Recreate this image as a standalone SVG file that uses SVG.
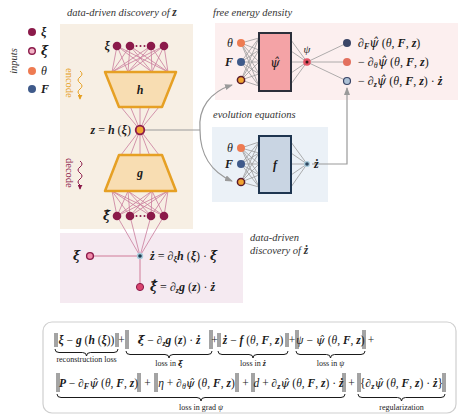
<svg xmlns="http://www.w3.org/2000/svg" width="474" height="419" viewBox="0 0 474 419">
<defs>
<style>
text{font-family:"Liberation Serif","DejaVu Serif",serif;fill:#1a1a1a}
.t{font-size:10.5px;font-style:italic;fill:#333}
.m{font-size:12px}
.lm{font-size:11.5px}
.i{font-style:italic}
.b{font-style:italic;font-weight:bold}
.a{font-family:"DejaVu Serif",serif}
.sm{font-size:8px}
.pl{stroke:#C97B9C;stroke-width:0.8;fill:none}
.gl{stroke:#9a9a9a;stroke-width:0.8;fill:none}
.ar{stroke:#9a9a9a;stroke-width:1.2;fill:none}
.br{stroke:#1a1a1a;stroke-width:1;fill:none}
.nb{stroke:#1a1a1a;stroke-width:0.8;fill:none}
.trap{fill:#F8DDB2;stroke:#E6A024;stroke-width:2.5;stroke-linejoin:round}
.xi{fill:#8B1A4A}
</style>
<marker id="ah" viewBox="0 0 8 6" refX="7" refY="3" markerWidth="8" markerHeight="6" orient="auto" markerUnits="userSpaceOnUse">
<path d="M0,0 L8,3 L0,6 z" fill="#9a9a9a"/>
</marker>
<marker id="ao" viewBox="0 0 6 6" refX="5" refY="3" markerWidth="5" markerHeight="5" orient="auto" markerUnits="userSpaceOnUse">
<path d="M0,0 L6,3 L0,6 z" fill="#E6A024"/>
</marker>
<marker id="am" viewBox="0 0 6 6" refX="5" refY="3" markerWidth="5" markerHeight="5" orient="auto" markerUnits="userSpaceOnUse">
<path d="M0,0 L6,3 L0,6 z" fill="#8B1A4A"/>
</marker>
</defs>
<rect width="474" height="419" fill="#fff"/>

<g id="panels">
<rect x="60" y="24" width="133" height="205" fill="#F7EFE4"/>
<rect x="60" y="233" width="183" height="70" fill="#F5EAF1"/>
<rect x="215" y="23" width="243" height="77" fill="#FCEFEF"/>
<rect x="212" y="127" width="116" height="75" fill="#EBF1F7"/>
</g>

<g id="titles">
<text class="t" x="67" y="16">data-driven discovery of <tspan class="b" font-size="11.5">z</tspan></text>
<text class="t" x="213" y="16">free energy density</text>
<text class="t" x="213" y="118">evolution equations</text>
<text class="t" x="250" y="241">data-driven</text>
<text class="t" x="250" y="254">discovery of <tspan class="b" font-size="11.5">ż</tspan></text>
</g>

<g id="legend">
<text class="t" transform="translate(17,61) rotate(-90)" text-anchor="middle">inputs</text>
<circle cx="32" cy="32" r="4" fill="#8B1A4A"/>
<circle cx="32" cy="51" r="3.3" fill="#F2B3C6" stroke="#8B1A4A" stroke-width="1.4"/>
<circle cx="32" cy="71" r="4" fill="#EE7B52"/>
<circle cx="32" cy="89" r="4" fill="#3F5A8A"/>
<text class="m b" x="41" y="36">ξ</text>
<text class="m b a" x="41" y="55">ξ̇</text>
<text class="m i" x="41" y="75">θ</text>
<text class="m b" x="41" y="93">F</text>
</g>

<g id="connectors">
<path class="pl" d="M117,46 L112,72 M117,46 L128,72 M117,46 L152,72 M117,46 L168,72 M130,46 L112,72 M130,46 L128,72 M130,46 L152,72 M130,46 L168,72 M151,46 L112,72 M151,46 L128,72 M151,46 L152,72 M151,46 L168,72 M164,46 L112,72 M164,46 L128,72 M164,46 L152,72 M164,46 L168,72"/>
<path class="pl" d="M121,107 L140,130 M130.5,107 L140,130 M140,107 L140,130 M149.5,107 L140,130 M159,107 L140,130"/>
<path class="pl" d="M140,130 L121,155 M140,130 L130.5,155 M140,130 L140,155 M140,130 L149.5,155 M140,130 L159,155"/>
<path class="pl" d="M117,216 L112,191 M117,216 L128,191 M117,216 L152,191 M117,216 L168,191 M130,216 L112,191 M130,216 L128,191 M130,216 L152,191 M130,216 L168,191 M151,216 L112,191 M151,216 L128,191 M151,216 L152,191 M151,216 L168,191 M164,216 L112,191 M164,216 L128,191 M164,216 L152,191 M164,216 L168,191"/>
<path class="pl" d="M117,216 L140,256 M130,216 L140,256 M151,216 L140,256 M164,216 L140,256"/>
<path d="M90,256 L140,256 L140,287" stroke="#D07A98" stroke-width="1" fill="none"/>
<path class="gl" d="M241,43 L259,38 M241,43 L259,50 M241,43 L259,62 M241,43 L259,74 M241,43 L259,86 M241,62 L259,38 M241,62 L259,50 M241,62 L259,62 M241,62 L259,74 M241,62 L259,86 M241,80 L259,38 M241,80 L259,50 M241,80 L259,62 M241,80 L259,74 M241,80 L259,86"/>
<path class="gl" d="M291,40 L307,62 M291,51 L307,62 M291,62 L307,62 M291,73 L307,62 M291,84 L307,62"/>
<path class="gl" d="M307,62 L347,43 M307,62 L347,62 M307,62 L347,81"/>
<path class="gl" d="M241,148 L259,142 M241,148 L259,153 M241,148 L259,164 M241,148 L259,175 M241,148 L259,187 M241,164 L259,142 M241,164 L259,153 M241,164 L259,164 M241,164 L259,175 M241,164 L259,187 M241,182 L259,142 M241,182 L259,153 M241,182 L259,164 M241,182 L259,175 M241,182 L259,187"/>
<path class="gl" d="M291,142 L307,164 M291,153 L307,164 M291,164 L307,164 M291,175 L307,164 M291,187 L307,164"/>
<path class="ar" d="M144,130 L200,130"/>
<path class="ar" d="M200,130 C198,108 210,92 232,85" marker-end="url(#ah)"/>
<path class="ar" d="M200,130 C200,154 211,172 232,181" marker-end="url(#ah)"/>
<path class="ar" d="M312,164 L347,164 L347,88" marker-end="url(#ah)"/>
</g>

<g id="encoder">
<polygon class="trap" points="105,72 176,72 162,107 119,107"/>
<text class="b" x="140" y="94" font-size="12" text-anchor="middle">h</text>
<text x="0" y="0" font-size="10.5" style="fill:#E6A024" transform="translate(66,68) rotate(90)">encode</text>
<path d="M80,71 q4,3 0,6 q-4,3 0,6 q4,3 0,6 q-4,3 0,6 l0,4" stroke="#E6A024" stroke-width="1" fill="none" marker-end="url(#ao)"/>
</g>

<g id="xi-nodes">
<text class="m b" x="110" y="50" text-anchor="end">ξ</text>
<circle class="xi" cx="117" cy="46" r="4.3"/>
<circle class="xi" cx="130" cy="46" r="4.3"/>
<circle class="xi" cx="151" cy="46" r="4.3"/>
<circle class="xi" cx="164" cy="46" r="4.3"/>
<circle class="xi" cx="136.5" cy="46" r="1"/>
<circle class="xi" cx="140.5" cy="46" r="1"/>
<circle class="xi" cx="144.5" cy="46" r="1"/>
</g>

<g id="z-node">
<circle cx="140" cy="130" r="4.3" fill="#F2A531" stroke="#8B1A4A" stroke-width="1.8"/>
<text class="m" x="131" y="134" text-anchor="end"><tspan class="b">z</tspan> = <tspan class="b">h</tspan> (<tspan class="b">ξ</tspan>)</text>
</g>

<g id="decoder">
<polygon class="trap" points="119,155 162,155 176,191 105,191"/>
<text class="b" x="140" y="177" font-size="12" text-anchor="middle">g</text>
<text x="0" y="0" font-size="10.5" style="fill:#8B1A4A" transform="translate(66,158) rotate(90)">decode</text>
<path d="M80,161 q4,3 0,6 q-4,3 0,6 q4,3 0,6 q-4,3 0,6 l0,4" stroke="#8B1A4A" stroke-width="1" fill="none" marker-end="url(#am)"/>
</g>

<g id="xihat-nodes">
<text class="m b a" x="110" y="220" text-anchor="end">ξ̂</text>
<circle class="xi" cx="117" cy="216" r="4.3"/>
<circle class="xi" cx="130" cy="216" r="4.3"/>
<circle class="xi" cx="151" cy="216" r="4.3"/>
<circle class="xi" cx="164" cy="216" r="4.3"/>
<circle class="xi" cx="136.5" cy="216" r="1"/>
<circle class="xi" cx="140.5" cy="216" r="1"/>
<circle class="xi" cx="144.5" cy="216" r="1"/>
</g>

<g id="xidot-node">
<circle cx="90" cy="256" r="3.4" fill="#F08AAA" stroke="#8B1A4A" stroke-width="1.4"/>
<text class="m b a" x="80" y="260" text-anchor="end">ξ̇</text>
</g>
<g id="zdot-point">
<circle cx="140" cy="256" r="3.2" fill="#A9CCDC"/>
<circle cx="140" cy="256" r="1.8" fill="#1E3A4E"/>
<text class="m" x="150" y="260"><tspan class="b">ż</tspan> = ∂<tspan class="b sm" dy="2">ξ</tspan><tspan class="b" dy="-2">h</tspan> (<tspan class="b">ξ</tspan>) · <tspan class="b a">ξ̇</tspan></text>
</g>
<g id="xihatdot-node">
<circle cx="140" cy="287" r="3.6" fill="#D9446E" stroke="#8B1A4A" stroke-width="1"/>
<text class="m" x="150" y="291"><tspan class="b a">ξ̂̇</tspan> = ∂<tspan class="b sm" dy="2">z</tspan><tspan class="b" dy="-2">g</tspan> (<tspan class="b">z</tspan>) · <tspan class="b">ż</tspan></text>
</g>

<g id="psi-net">
<text class="m i" x="233" y="47" text-anchor="end">θ</text>
<text class="m b" x="233" y="66" text-anchor="end">F</text>
<circle cx="241" cy="43" r="4" fill="#EE7B52"/>
<circle cx="241" cy="62" r="4" fill="#3F5A8A"/>
<circle cx="241" cy="80" r="3.6" fill="#F2A531" stroke="#5a1a2a" stroke-width="1.5"/>
<rect x="259" y="33" width="32" height="58" fill="#F4A3A6" stroke="#2b2f3a" stroke-width="2"/>
<text class="i a" x="275" y="67" font-size="12" text-anchor="middle">ψ̂</text>
</g>
<g id="psi-node">
<text class="i" x="307" y="53" font-size="11" text-anchor="middle">ψ</text>
<circle cx="307" cy="62" r="3.8" fill="#E55566"/>
<circle cx="307" cy="62" r="1.5" fill="#3a1a1a"/>
</g>
<g id="psi-outputs">
<circle cx="347" cy="43" r="4" fill="#3A4566"/>
<circle cx="347" cy="62" r="4" fill="#E3705E"/>
<circle cx="347" cy="81" r="3.5" fill="#ADC1D6" stroke="#3A4566" stroke-width="1.2"/>
<text class="m" x="358" y="47">∂<tspan class="b sm" dy="2">F</tspan><tspan class="i a" dy="-2">ψ̂</tspan> (<tspan class="i">θ</tspan>, <tspan class="b">F</tspan>, <tspan class="b">z</tspan>)</text>
<text class="m" x="358" y="66">− ∂<tspan class="i sm" dy="2">θ</tspan><tspan class="i a" dy="-2">ψ̂</tspan> (<tspan class="i">θ</tspan>, <tspan class="b">F</tspan>, <tspan class="b">z</tspan>)</text>
<text class="m" x="358" y="85">− ∂<tspan class="b sm" dy="2">z</tspan><tspan class="i a" dy="-2">ψ̂</tspan> (<tspan class="i">θ</tspan>, <tspan class="b">F</tspan>, <tspan class="b">z</tspan>) · <tspan class="b">ż</tspan></text>
</g>

<g id="f-net">
<text class="m i" x="233" y="152" text-anchor="end">θ</text>
<text class="m b" x="233" y="168" text-anchor="end">F</text>
<circle cx="241" cy="148" r="4" fill="#EE7B52"/>
<circle cx="241" cy="164" r="4" fill="#3F5A8A"/>
<circle cx="241" cy="182" r="3.6" fill="#F2A531" stroke="#5a1a2a" stroke-width="1.5"/>
<rect x="259" y="136" width="32" height="57" fill="#C9D5E3" stroke="#1E3550" stroke-width="2"/>
<text class="b" x="275" y="169" font-size="12" text-anchor="middle">f</text>
</g>
<g id="zdot-node">
<circle cx="307" cy="164" r="3" fill="#A9CCDC"/>
<circle cx="307" cy="164" r="1.8" fill="#2E4760"/>
<text class="m b" x="314" y="168">ż</text>
</g>

<g id="loss">
<rect x="43" y="322" width="413" height="91" rx="9" fill="#fff" stroke="#cfcfcf" stroke-width="1.2"/>
<path class="nb" d="M55,333 V347 M57,333 V347 M116,333 V347 M118,333 V347
M126,330 V349 M128,330 V349 M210,330 V349 M212,330 V349
M218,333 V347 M220,333 V347 M286,333 V347 M288,333 V347
M296,330 V349 M298,330 V349 M363,330 V349 M365,330 V349
M57,373 V392 M59,373 V392 M138,373 V392 M140,373 V392
M155,373 V392 M157,373 V392 M236,373 V392 M238,373 V392
M252,373 V392 M254,373 V392 M343,373 V392 M345,373 V392
M358,373 V392 M360,373 V392 M443,373 V392 M445,373 V392"/>
<text class="lm" x="86.5" y="344" text-anchor="middle"><tspan class="b">ξ</tspan> − <tspan class="b">g</tspan> (<tspan class="b">h</tspan> (<tspan class="b">ξ</tspan>))</text>
<text class="lm" x="121.5" y="344" text-anchor="middle">+</text>
<text class="lm" x="169" y="344" text-anchor="middle"><tspan class="b a">ξ̇</tspan> − ∂<tspan class="b sm" dy="2">z</tspan><tspan class="b" dy="-2">g</tspan> (<tspan class="b">z</tspan>) · <tspan class="b">ż</tspan></text>
<text class="lm" x="214.5" y="344" text-anchor="middle">+</text>
<text class="lm" x="253" y="344" text-anchor="middle" font-size="11"><tspan class="b">ż</tspan> − <tspan class="b">f</tspan> (<tspan class="i">θ</tspan>, <tspan class="b">F</tspan>, <tspan class="b">z</tspan>)</text>
<text class="lm" x="292" y="344" text-anchor="middle">+</text>
<text class="lm" x="330.5" y="344" text-anchor="middle"><tspan class="i">ψ</tspan> − <tspan class="i a">ψ̂</tspan> (<tspan class="i">θ</tspan>, <tspan class="b">F</tspan>, <tspan class="b">z</tspan>)</text>
<text class="lm" x="371" y="344" text-anchor="middle">+</text>

<text class="lm" x="98.5" y="387" text-anchor="middle"><tspan class="b">P</tspan> − ∂<tspan class="b sm" dy="2">F</tspan><tspan class="i a" dy="-2">ψ̂</tspan> (<tspan class="i">θ</tspan>, <tspan class="b">F</tspan>, <tspan class="b">z</tspan>)</text>
<text class="lm" x="147.5" y="387" text-anchor="middle">+</text>
<text class="lm" x="196.5" y="387" text-anchor="middle"><tspan class="i">η</tspan> + ∂<tspan class="i sm" dy="2">θ</tspan><tspan class="i a" dy="-2">ψ̂</tspan> (<tspan class="i">θ</tspan>, <tspan class="b">F</tspan>, <tspan class="b">z</tspan>)</text>
<text class="lm" x="245.5" y="387" text-anchor="middle">+</text>
<text class="lm" x="298.5" y="387" text-anchor="middle"><tspan class="i">d</tspan> + ∂<tspan class="b sm" dy="2">z</tspan><tspan class="i a" dy="-2">ψ̂</tspan> (<tspan class="i">θ</tspan>, <tspan class="b">F</tspan>, <tspan class="b">z</tspan>) · <tspan class="b">ż</tspan></text>
<text class="lm" x="351.5" y="387" text-anchor="middle">+</text>
<text class="lm" x="401.5" y="387" text-anchor="middle">{∂<tspan class="b sm" dy="2">z</tspan><tspan class="i a" dy="-2">ψ̂</tspan> (<tspan class="i">θ</tspan>, <tspan class="b">F</tspan>, <tspan class="b">z</tspan>) · <tspan class="b">ż</tspan>}</text>
<path class="br" d="M55,349 Q55,352.5 59,352.5 L82.5,352.5 Q86.5,352.5 86.5,356 Q86.5,352.5 90.5,352.5 L114,352.5 Q118,352.5 118,349"/>
<path class="br" d="M126,351 Q126,354.5 130,354.5 L165,354.5 Q169,354.5 169,358 Q169,354.5 173,354.5 L208,354.5 Q212,354.5 212,351"/>
<path class="br" d="M218,351 Q218,354.5 222,354.5 L249,354.5 Q253,354.5 253,358 Q253,354.5 257,354.5 L284,354.5 Q288,354.5 288,351"/>
<path class="br" d="M296,351 Q296,354.5 300,354.5 L326.5,354.5 Q330.5,354.5 330.5,358 Q330.5,354.5 334.5,354.5 L361,354.5 Q365,354.5 365,351"/>
<path class="br" d="M57,394 Q57,397.5 61,397.5 L197,397.5 Q201,397.5 201,401 Q201,397.5 205,397.5 L341,397.5 Q345,397.5 345,394"/>
<path class="br" d="M358,394 Q358,397.5 362,397.5 L397.5,397.5 Q401.5,397.5 401.5,401 Q401.5,397.5 405.5,397.5 L441,397.5 Q445,397.5 445,394"/>
<text class="sm" x="86.5" y="362" text-anchor="middle">reconstruction loss</text>
<text class="sm" x="169" y="366" text-anchor="middle">loss in <tspan class="b a">ξ̇</tspan></text>
<text class="sm" x="253" y="366" text-anchor="middle">loss in <tspan class="b">ż</tspan></text>
<text class="sm" x="330.5" y="366" text-anchor="middle">loss in <tspan class="i">ψ</tspan></text>
<text class="sm" x="201" y="410" text-anchor="middle">loss in grad <tspan class="i">ψ</tspan></text>
<text class="sm" x="401.5" y="410" text-anchor="middle">regularization</text>
</g>
</svg>
